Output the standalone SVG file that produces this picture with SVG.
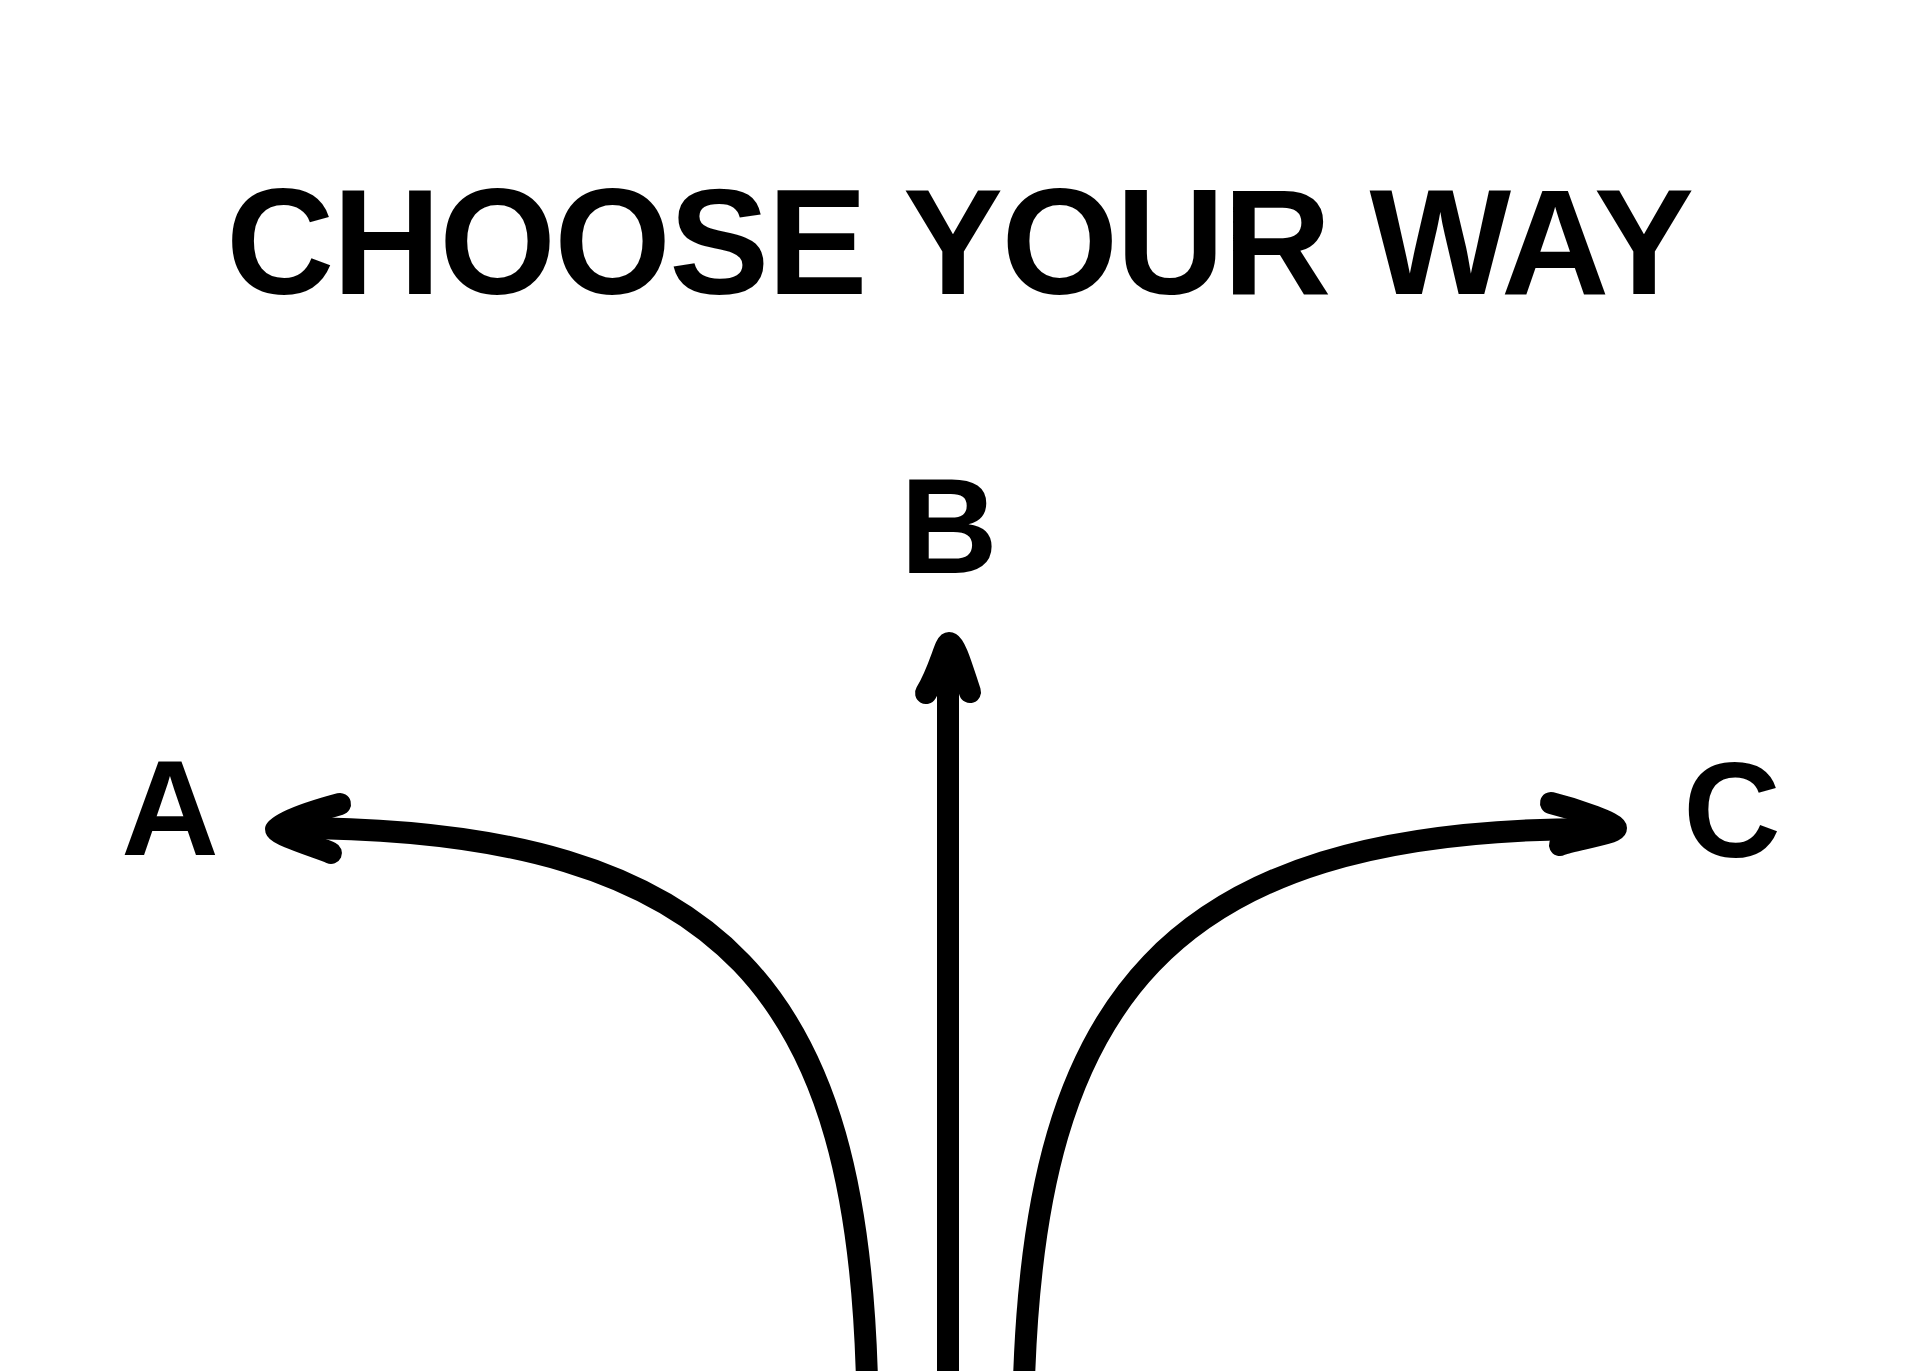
<svg xmlns="http://www.w3.org/2000/svg" width="1920" height="1371" viewBox="0 0 1920 1371">
<style>
.t{font-family:"Liberation Sans",Arial,sans-serif;font-weight:bold;fill:#000}
.c{fill:none;stroke:#000;stroke-width:22;stroke-linecap:round;stroke-linejoin:round}
</style>
<rect width="1920" height="1371" fill="#fff"/>
<g id="title"><text class="t" x="226" y="294" font-size="150" textLength="1468" lengthAdjust="spacing">CHOOSE YOUR WAY</text></g>
<g id="nodeA"><text class="t" x="170" y="855" font-size="135" text-anchor="middle">A</text></g>
<g id="nodeB"><text class="t" x="949" y="573" font-size="135" text-anchor="middle">B</text></g>
<g id="nodeC"><text class="t" x="1732" y="857" font-size="135" text-anchor="middle">C</text></g>
<g id="connectors">
<path class="c" d="M948 1380 V652"/>
<path class="c" d="M926 693 C940 670 945 643 949 643 C955 643 962 668 970 692"/>
<path class="c" d="M867 1380 C857 1004 735 828 290 828"/>
<path class="c" d="M340 804 C310 812 276 825 276 829 C276 835 320 848 331 853"/>
<path class="c" d="M1024 1380 C1036 1004 1163 829 1590 829"/>
<path class="c" d="M1551 803 C1580 810 1616 824 1616 828 C1616 834 1570 840 1560 845"/>
</g>
</svg>
